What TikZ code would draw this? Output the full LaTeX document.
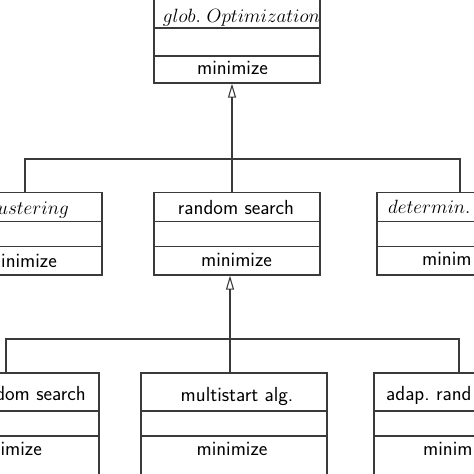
\RequirePackage{fix-cm}
\documentclass[tikz,border=0pt]{standalone}
\usepackage{fontspec}
\usetikzlibrary{arrows.meta}
\definecolor{lc}{HTML}{3A3A3A}
\begin{document}
\begin{tikzpicture}[x=1pt,y=-1pt,
  cls/.style={draw=lc, line width=1.2pt, inner sep=0pt, fill=none},
  ln/.style={draw=lc, line width=1.2pt},
  sf/.style={font=\fontsize{20.4}{24}\sffamily, inner sep=0pt, text=black},
  it/.style={font=\fontsize{19.2}{22}\selectfont, inner sep=0pt, text=black},
  gen/.style={ln, -{Triangle[open, length=14pt, width=8pt, line width=1.1pt]}}]
\useasboundingbox (0,0) rectangle (474,474);
\clip (0,0) rectangle (474,474);
% class boxes
\node[cls, minimum width=166pt, minimum height=84pt] (top) at (237,41) {};
\node[cls, minimum width=166pt, minimum height=82.5pt] (midL) at (19,233.75) {};
\node[cls, minimum width=166pt, minimum height=82.5pt] (midC) at (237,233.75) {};
\node[cls, minimum width=166pt, minimum height=82.5pt] (midR) at (460,233.75) {};
\node[cls, minimum width=186pt, minimum height=107pt] (botL) at (6,426.5) {};
\node[cls, minimum width=186pt, minimum height=107pt] (botC) at (234,426.5) {};
\node[cls, minimum width=186pt, minimum height=107pt] (botR) at (467,426.5) {};
% compartment separators
\foreach \b/\ya/\yb in {top/28/56, midL/221.5/246.5, midC/221.5/246.5, midR/221.5/246.5, botL/411/436, botC/411/436, botR/411/436} {
  \draw[ln] (\b.west |- 0,\ya) -- (\b.east |- 0,\ya);
  \draw[ln] (\b.west |- 0,\yb) -- (\b.east |- 0,\yb);
}
% texts
\node[it, anchor=base] (tTop) at (241.5,22) {$glob.\ Optimization$};
\node[sf, anchor=base] (mTop) at (232.5,74) {minimize};
\node[it, anchor=base east] (tMidL) at (69,214) {$lustering$};
\node[sf, anchor=base east] (mMidL) at (57,267) {inimize};
\node[sf, anchor=base] (tMidC) at (236,214) {random search};
\node[sf, anchor=base] (mMidC) at (236.5,266.5) {minimize};
\node[it, anchor=base west] (tMidR) at (388,213.5) {$determin.$};
\node[sf, anchor=base west] (mMidR) at (422,265) {minim};
\node[sf, anchor=base east] (tBotL) at (86,400) {dom search};
\node[sf, anchor=base east] (mBotL) at (42,455) {imize};
\node[sf, anchor=base] (tBotC) at (237,401.5) {multistart alg.};
\node[sf, anchor=base] (mBotC) at (232,455) {minimize};
\node[sf, anchor=base west] (tBotR) at (386,400) {adap.\ rand};
\node[sf, anchor=base west] (mBotR) at (423,455) {minim};
% connectors, upper level
\coordinate (j1) at (232,159);
\coordinate (hL1) at (25,159);
\coordinate (hR1) at (460,159);
\draw[ln] (midL.north -| hL1) -- (hL1) -- (hR1) -- (midR.north -| hR1);
\draw[ln] (midC.north -| j1) -- (j1);
\draw[gen] (j1) -- (top.south -| j1);
% connectors, lower level
\coordinate (j2) at (230,339);
\coordinate (hL2) at (6,339);
\coordinate (hR2) at (459,339);
\draw[ln] (botL.north -| hL2) -- (hL2) -- (hR2) -- (botR.north -| hR2);
\draw[ln] (botC.north -| j2) -- (j2);
\draw[gen] (j2) -- (midC.south -| j2);
\end{tikzpicture}
\end{document}
